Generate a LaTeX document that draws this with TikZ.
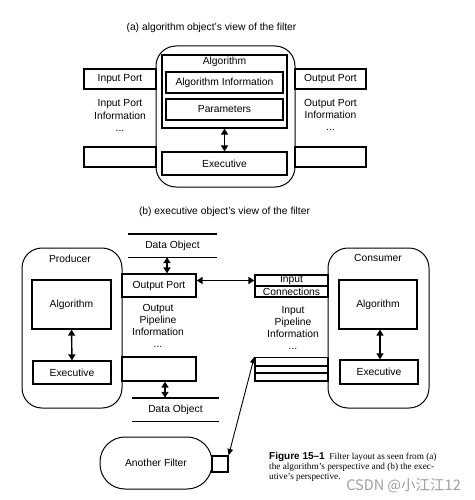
\documentclass[tikz,border=0pt]{standalone}
\usepackage{fontspec}
\setmainfont{Liberation Sans}
\newfontfamily\capserif{Liberation Serif}
\newfontfamily\cjkfont{Noto Sans CJK SC}
\usetikzlibrary{arrows.meta,calc}
\tikzset{
  box/.style={draw, line width=1.2pt, inner sep=0pt, font=\fontsize{10.3}{12}\selectfont},
  rbox/.style={draw, line width=1pt, inner sep=0pt},
  lbl/.style={inner sep=0pt, font=\fontsize{10.3}{12.3}\selectfont, align=center},
  dbl/.style={line width=1.4pt, {Triangle[length=6pt,width=7pt]}-{Triangle[length=6pt,width=7pt]}},
  thin dbl/.style={line width=0.9pt, {Triangle[length=6.5pt,width=5.5pt]}-{Triangle[length=6.5pt,width=5.5pt]}},
  dline/.style={line width=1.4pt}
}
\begin{document}
\begin{tikzpicture}[x=1pt,y=-1pt]
\useasboundingbox (0,0) rectangle (474,500);
% ---------- (a)
\node[lbl] (titleA) at (211.5,28) {(a) algorithm object's view of the filter};
\node[rbox, rounded corners=20pt, minimum width=139pt, minimum height=141pt] (outerA) at (225.5,116.5) {};
\node[box, minimum width=125pt, minimum height=73pt] (algA) at (224.5,91.5) {};
\node[lbl] (algAl) at (224.5,62) {Algorithm};
\node[box, minimum width=117pt, minimum height=21pt] (algInfo) at (224.5,82.5) {Algorithm Information};
\node[box, minimum width=117pt, minimum height=21pt] (params) at (224.5,109.5) {Parameters};
\node[box, minimum width=125pt, minimum height=23pt] (execA) at (224.5,163.5) {Executive};
\draw[dbl] (algA.south) -- (execA.north);
\node[box, minimum width=72pt, minimum height=20pt] (inPort) at (120,79) {Input Port};
\node[box, minimum width=72pt, minimum height=20pt] (inBot) at (120,157) {};
\node[box, minimum width=71pt, minimum height=20pt] (outPort) at (330.5,79) {Output Port};
\node[box, minimum width=71pt, minimum height=20pt] (outBot) at (330.5,157) {};
\node[lbl] (inInfo) at (120,109.5) {Input Port\\Information};
\node[lbl] (inDots) at (120,131) {...};
\node[lbl] (outInfo) at (330.5,109) {Output Port\\Information};
\node[lbl] (outDots) at (330.5,130) {...};
% ---------- (b)
\node[lbl] (titleB) at (224.5,212) {(b) executive object's view of the filter};
\node[lbl, minimum width=89pt, minimum height=23pt] (dataTop) at (172.5,245.5) {Data Object};
\draw[dline] (dataTop.north west) -- (dataTop.north east);
\draw[dline] (dataTop.south west) -- (dataTop.south east);
\node[rbox, rounded corners=20pt, minimum width=100pt, minimum height=160pt] (prod) at (72,328) {};
\node[lbl] (prodl) at (70,259) {Producer};
\node[box, minimum width=79pt, minimum height=49pt] (pAlg) at (71.5,304.5) {Algorithm};
\node[box, minimum width=78pt, minimum height=23pt] (pExec) at (72,372.5) {Executive};
\draw[dbl] (pAlg.south) -- (pExec.north);
\node[box, minimum width=74pt, minimum height=23pt] (outPortB) at (159,285.5) {Output Port};
\node[box, minimum width=74pt, minimum height=24pt] (outBotB) at (159,369) {};
\node[lbl] (outPipe) at (158,320) {Output\\Pipeline\\Information};
\node[lbl] (outPipeDots) at (158,347) {...};
\node[lbl, minimum width=87pt, minimum height=23pt] (dataBot) at (175.5,409.5) {Data Object};
\draw[dline] (dataBot.north west) -- (dataBot.north east);
\draw[dline] (dataBot.south west) -- (dataBot.south east);
\coordinate (opn) at ($(outPortB.north)+(8,0)$);
\draw[dbl] (opn) -- (opn |- dataTop.south);
\coordinate (obs) at ($(outBotB.south)+(6,0)$);
\draw[dbl] (obs) -- (obs |- dataBot.north);
\node[rbox, rounded corners=20pt, minimum width=101pt, minimum height=160pt] (cons) at (378.5,328) {};
\node[lbl] (consl) at (378,258) {Consumer};
\node[box, minimum width=78pt, minimum height=49pt] (cAlg) at (378,304.5) {Algorithm};
\node[box, minimum width=78pt, minimum height=24pt] (cExec) at (379,372) {Executive};
\coordinate (cas) at ($(cAlg.south)+(2,0)$);
\draw[dbl] (cas) -- (cas |- cExec.north);
\node[box, minimum width=73pt, minimum height=11pt] (inC1) at (291.5,280.5) {Input};
\node[box, minimum width=73pt, minimum height=11pt] (inC2) at (291.5,291.5) {Connections};
\node[lbl] (inPipe) at (293,322) {Input\\Pipeline\\Information};
\node[lbl] (inPipeDots) at (293,349) {...};
\node[box, minimum width=73pt, minimum height=8.5pt] (inR1) at (291.5,361.5) {};
\node[box, minimum width=73pt, minimum height=7pt] (inR2) at (291.5,369.5) {};
\node[box, minimum width=73pt, minimum height=8pt] (inR3) at (291.5,377) {};
\draw[dbl] (inC1.west) -- (inC1.west -| outPortB.east);
\node[rbox, rounded corners=25pt, minimum width=112pt, minimum height=52pt, font=\fontsize{10.3}{12}\selectfont] (another) at (156,463) {Another Filter};
\node[box, minimum width=16pt, minimum height=16pt] (sq) at (220,464) {};
\draw[thin dbl] (sq.north east) -- (inR1.north west);
% caption
\node[inner sep=0pt, anchor=north west, align=left, font=\capserif\fontsize{9.25}{9.9}\selectfont] (cap) at (269,452)
 {{\rmfamily\bfseries\fontsize{10}{9.9}\selectfont Figure 15–1}\enspace Filter layout as seen from (a)\\the algorithm’s perspective and (b) the exec-\\utive’s perspective.};
\node[inner sep=0pt, anchor=east, text=black!38, font=\cjkfont\fontsize{14.5}{16}\selectfont] (wm) at (461,486) {CSDN @小江江12};
\end{tikzpicture}
\end{document}
